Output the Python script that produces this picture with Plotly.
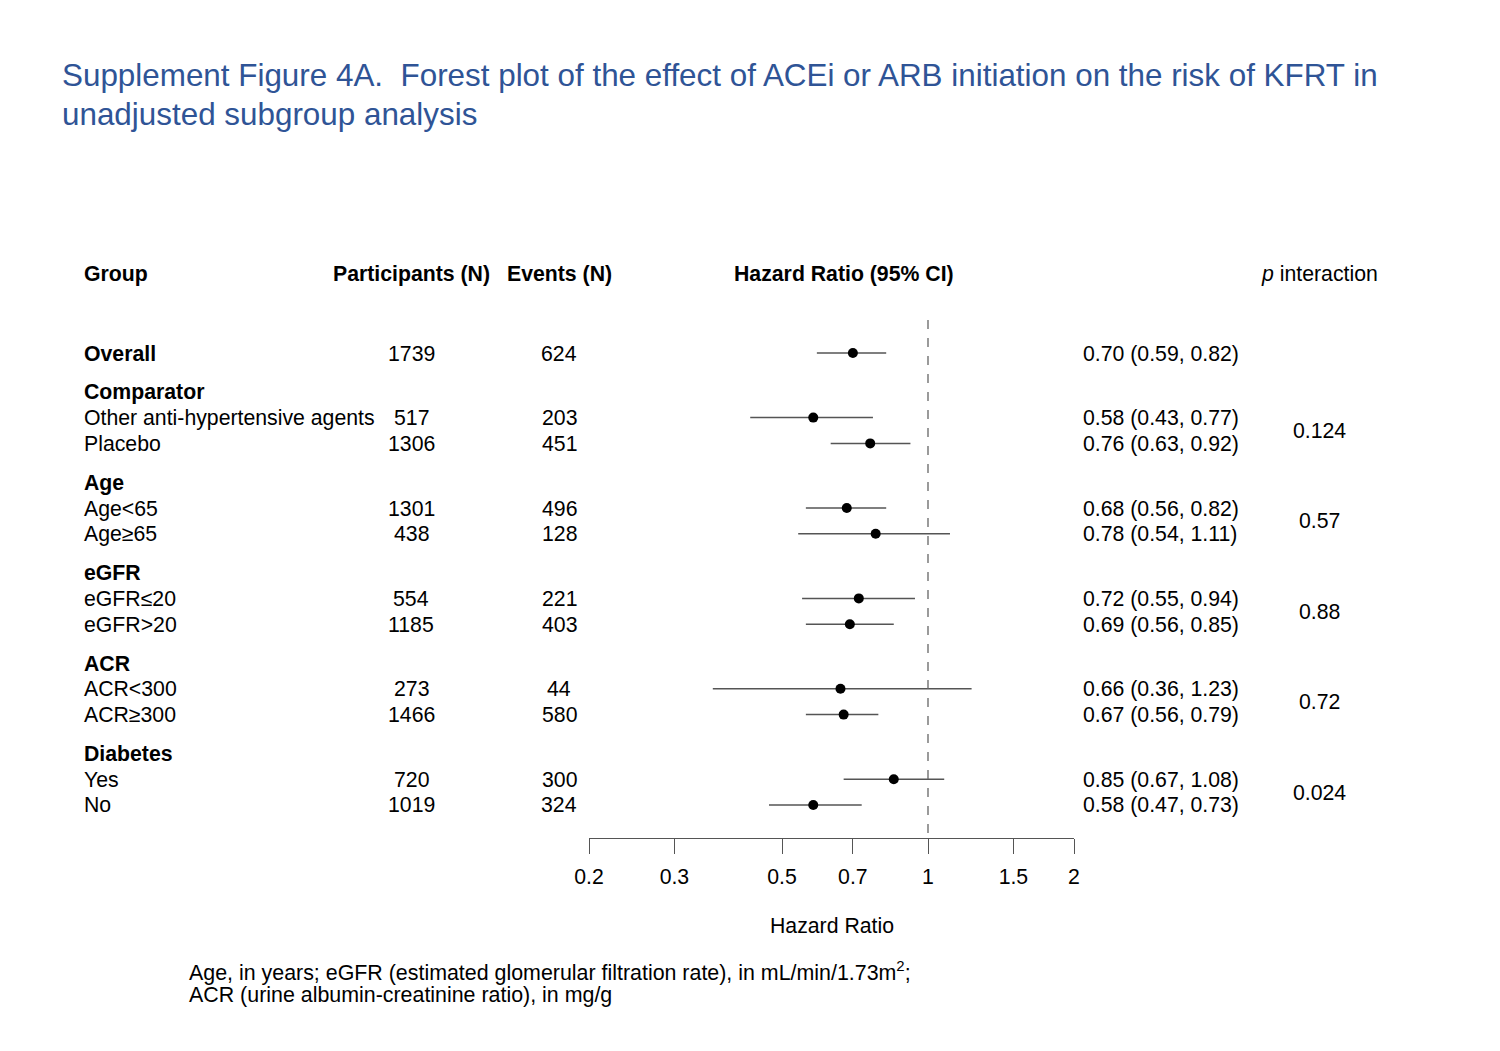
import math
import plotly.graph_objects as go

# ---------------- data ----------------
overall_label = "Overall"
overall_n = 1739
overall_events = 624
overall_hr, overall_lo, overall_hi = 0.70, 0.59, 0.82

group_names = ["Comparator", "Age", "eGFR", "ACR", "Diabetes"]
sub_labels = [["Other anti-hypertensive agents", "Placebo"],
              ["Age<65", "Age≥65"],
              ["eGFR≤20", "eGFR>20"],
              ["ACR<300", "ACR≥300"],
              ["Yes", "No"]]
sub_n = [[517, 1306], [1301, 438], [554, 1185], [273, 1466], [720, 1019]]
sub_events = [[203, 451], [496, 128], [221, 403], [44, 580], [300, 324]]
sub_hr = [[0.58, 0.76], [0.68, 0.78], [0.72, 0.69], [0.66, 0.67], [0.85, 0.58]]
sub_lo = [[0.43, 0.63], [0.56, 0.54], [0.55, 0.56], [0.36, 0.56], [0.67, 0.47]]
sub_hi = [[0.77, 0.92], [0.82, 1.11], [0.94, 0.85], [1.23, 0.79], [1.08, 0.73]]
p_interaction = ["0.124", "0.57", "0.88", "0.72", "0.024"]

tick_vals = [0.2, 0.3, 0.5, 0.7, 1, 1.5, 2]
tick_text = ["0.2", "0.3", "0.5", "0.7", "1", "1.5", "2"]

title_lines = ["Supplement Figure 4A.  Forest plot of the effect of ACEi or ARB initiation on the risk of KFRT in",
               "unadjusted subgroup analysis"]
footnote_lines = ["Age, in years; eGFR (estimated glomerular filtration rate), in mL/min/1.73m<sup>2</sup>;",
                  "ACR (urine albumin-creatinine ratio), in mg/g"]

# ---------------- layout constants (pixels) ----------------
W, H = 1500, 1051
PL, PR = 589, 1074          # plot area left/right
PT, PB = 320, 838           # plot area top/bottom
FONT = "Liberation Sans, Arial, sans-serif"
FS = 21.25
BLACK = "#000000"
LINEC = "#555555"

def px(xpix):
    return (xpix - PL) / (PR - PL)

def py(ypix):
    return (PB - ypix) / (PB - PT)

# row positions (pixel units on y axis)
y_overall = 353.0
header_gap = 38.8
row_step = 25.8
header_y = []
rows_y = []
cur = y_overall
for g in range(len(group_names)):
    cur += header_gap
    header_y.append(cur)
    ys = []
    for _ in sub_labels[g]:
        cur += row_step
        ys.append(cur)
    rows_y.append(ys)

fig = go.Figure()

# CI lines
all_hr = [overall_hr] + [v for g in sub_hr for v in g]
all_lo = [overall_lo] + [v for g in sub_lo for v in g]
all_hi = [overall_hi] + [v for g in sub_hi for v in g]
all_y = [y_overall] + [v for g in rows_y for v in g]

lx, ly = [], []
for lo, hi, y in zip(all_lo, all_hi, all_y):
    lx += [lo, hi, None]
    ly += [y, y, None]
fig.add_trace(go.Scatter(x=lx, y=ly, mode="lines", line=dict(color=LINEC, width=1.5),
                         hoverinfo="skip", showlegend=False))
fig.add_trace(go.Scatter(x=all_hr, y=all_y, mode="markers",
                         marker=dict(color=BLACK, size=10, symbol="circle"),
                         showlegend=False))

# reference line at 1
fig.add_shape(type="line", xref="x", yref="y", x0=1, x1=1, y0=PT, y1=PB,
              line=dict(color="#666666", width=1.3, dash="dash"))

ann = []
TY = 0.5   # small vertical text nudge
def text(x, y, s, anchor="left", size=FS, bold=False, color=BLACK):
    if bold:
        s = "<b>" + s + "</b>"
    if anchor == "left":
        x = x - 2
    ann.append(dict(x=px(x), y=py(y + TY), xref="paper", yref="paper", text=s, showarrow=False,
                    xanchor=anchor, yanchor="middle", align=anchor if anchor != "center" else "center",
                    font=dict(family=FONT, size=size, color=color)))

# column headers
hdr_y = 274
text(84, hdr_y, "Group", bold=True)
text(411, hdr_y, "Participants (N)", "center", bold=True)
text(559, hdr_y, "Events (N)", "center", bold=True)
text(844, hdr_y, "Hazard Ratio (95% CI)", "center", bold=True)
text(1319, hdr_y, "<i>p</i> interaction", "center")

def ci_str(h, l, u):
    return f"{h:.2f} ({l:.2f}, {u:.2f})"

# overall row
text(84, y_overall, overall_label, bold=True)
text(411, y_overall, str(overall_n), "center")
text(559, y_overall, str(overall_events), "center")
text(1083, y_overall, ci_str(overall_hr, overall_lo, overall_hi))

for g, name in enumerate(group_names):
    text(84, header_y[g], name, bold=True)
    for i, lab in enumerate(sub_labels[g]):
        y = rows_y[g][i]
        text(84, y, lab)
        text(411, y, str(sub_n[g][i]), "center")
        text(559, y, str(sub_events[g][i]), "center")
        text(1083, y, ci_str(sub_hr[g][i], sub_lo[g][i], sub_hi[g][i]))
    text(1319, sum(rows_y[g]) / len(rows_y[g]), p_interaction[g], "center")

# axis title
text((PL + PR) / 2, 925, "Hazard Ratio", "center")

# title
text(62, 75, title_lines[0], size=31.4, color="#2F5496")
text(62, 114, title_lines[1], size=31.4, color="#2F5496")

# footnote
text(189, 970, footnote_lines[0], size=21.4)
text(189, 994, footnote_lines[1], size=21.4)

fig.update_layout(
    width=W, height=H,
    margin=dict(l=PL, r=W - PR, t=PT, b=H - PB, pad=0),
    paper_bgcolor="white", plot_bgcolor="white",
    annotations=ann,
    showlegend=False,
    xaxis=dict(type="log", range=[math.log10(0.2), math.log10(2)],
               tickvals=tick_vals, ticktext=tick_text,
               ticks="outside", ticklen=15, tickwidth=1.3, tickcolor=LINEC,
               ticklabelstandoff=4,
               showline=True, linecolor=LINEC, linewidth=1.3,
               showgrid=False, zeroline=False, fixedrange=True,
               tickfont=dict(family=FONT, size=FS, color=BLACK)),
    yaxis=dict(range=[PB, PT], visible=False, showgrid=False, zeroline=False, fixedrange=True),
)

fig.write_html("out.html")
